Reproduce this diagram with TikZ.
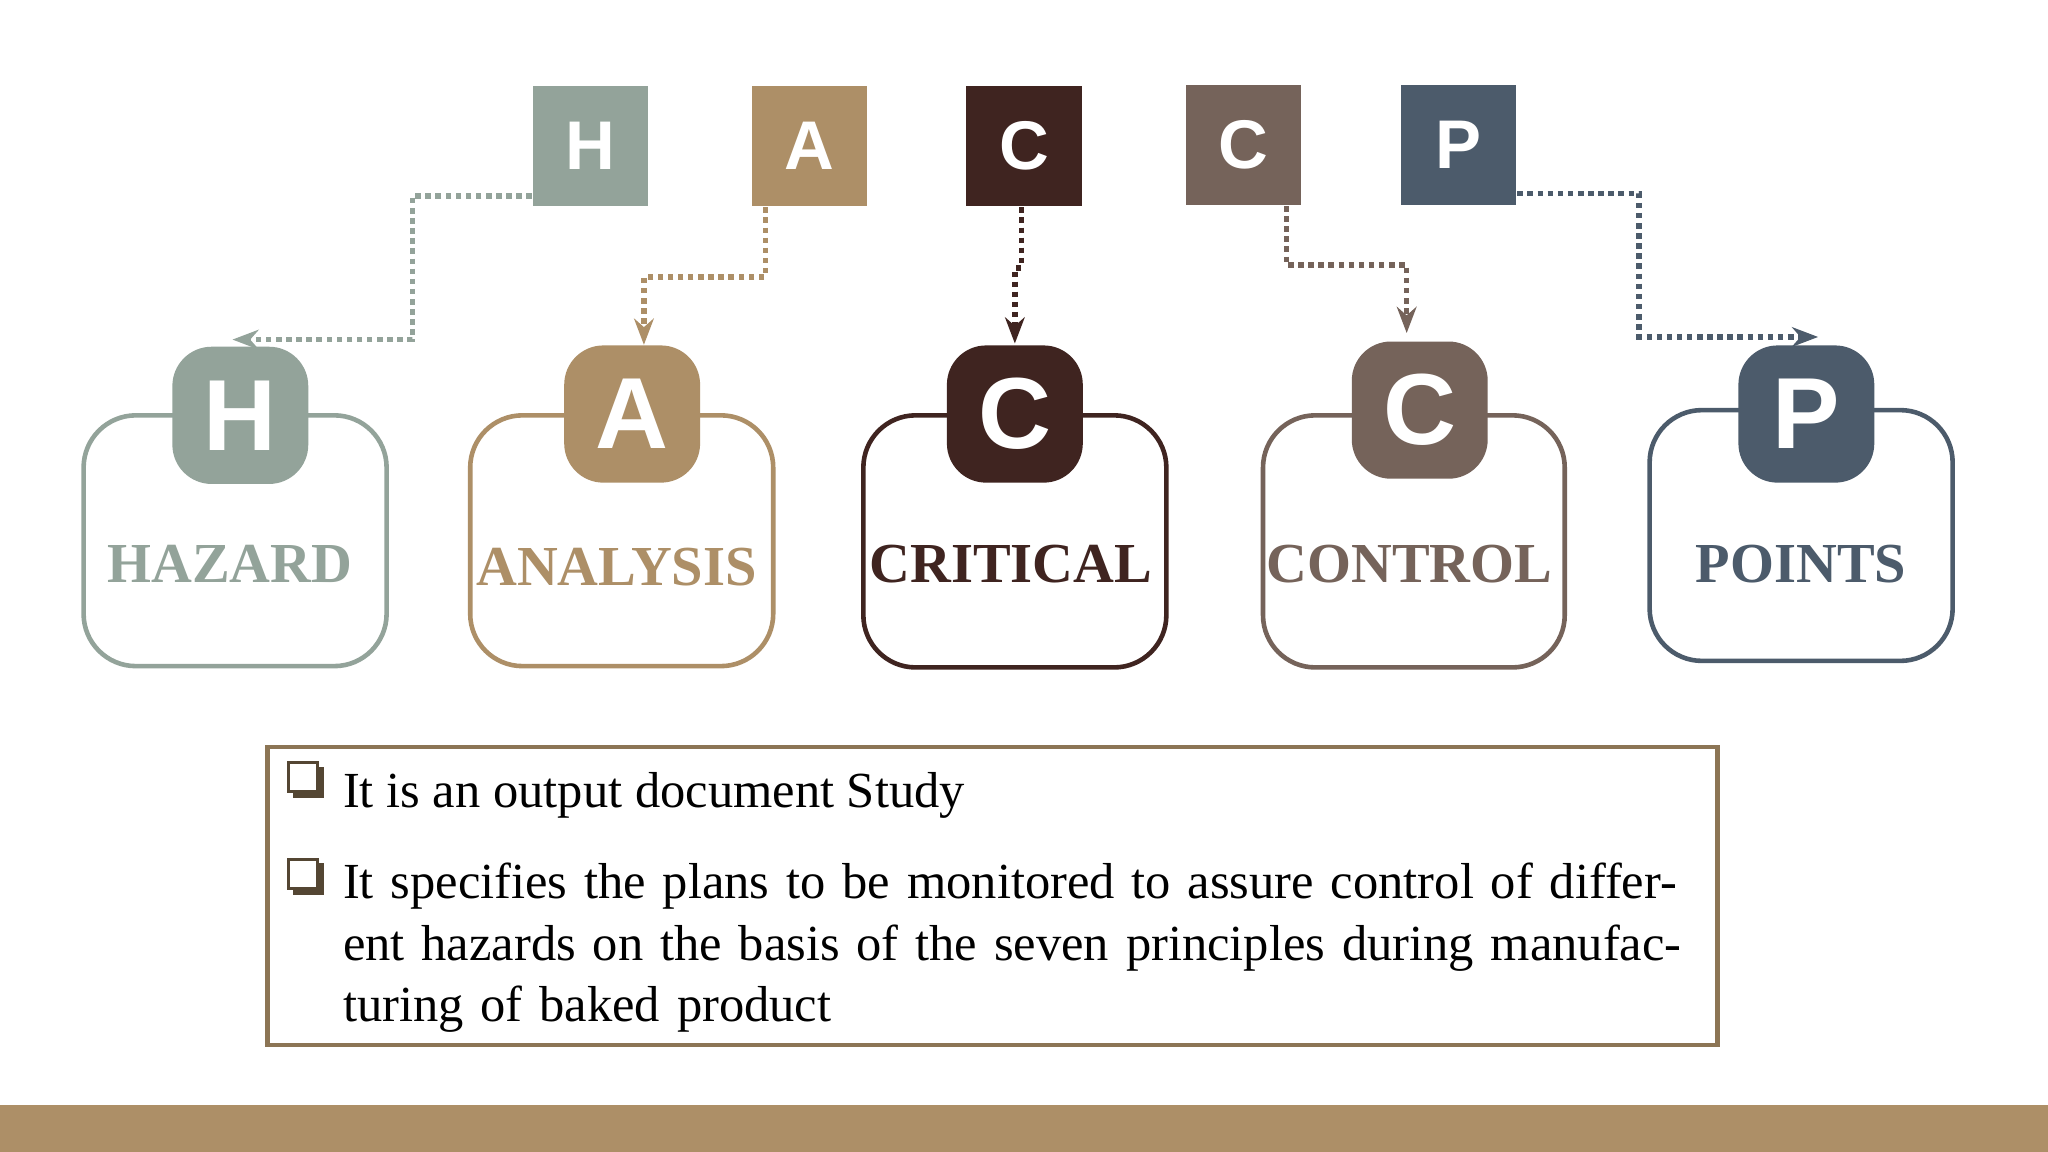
\documentclass[tikz,border=0pt]{standalone}
\usepackage{fontspec}
\setmainfont{Liberation Serif}
\newfontfamily\sansb{Liberation Sans}
\usetikzlibrary{arrows.meta,calc}
\definecolor{cH}{HTML}{93A39A}
\definecolor{cA}{HTML}{AD8F67}
\definecolor{cC}{HTML}{3F2420}
\definecolor{cCC}{HTML}{75635A}
\definecolor{cP}{HTML}{4C5B6B}
\definecolor{frame}{HTML}{8C7555}
\begin{document}
\begin{tikzpicture}[x=0.01cm,y=-0.01cm,
  topsq/.style={fill=#1,minimum width=2.5mm*3.52,minimum height=9.2mm,inner sep=0,text=white,font=\sansb\bfseries\fontsize{15}{15}\selectfont},
  tab/.style={fill=#1,rounded corners=3mm,minimum width=10.4mm,minimum height=10.5mm,inner sep=0,text=white,font=\sansb\bfseries\fontsize{22}{22}\selectfont},
  lbl/.style={text=#1,font=\bfseries\fontsize{12.3}{12.3}\selectfont},
  conn/.style={draw=#1,densely dotted,line width=1.2pt,-{Stealth[length=2mm]}}]
\useasboundingbox (0,0) rectangle (1568,882);
\fill[white] (0,0) rectangle (1568,882);
\fill[cA] (0,846) rectangle (1568,882);
% top squares
\node[topsq=cH] (tH) at (452,112) {H};
\node[topsq=cA] (tA) at (620,112) {A};
\node[topsq=cC] (tC) at (784,112) {C};
\node[topsq=cCC] (tC2) at (952,111) {C};
\node[topsq=cP] (tP) at (1117,111) {P};
% lower boxes
\draw[cH,line width=1pt,rounded corners=4mm] (64,318) rectangle (296,510);
\draw[cA,line width=1pt,rounded corners=4mm] (360,318) rectangle (592,510);
\draw[cC,line width=1pt,rounded corners=4mm] (661,318) rectangle (893,511);
\draw[cCC,line width=1pt,rounded corners=4mm] (967,318) rectangle (1198,511);
\draw[cP,line width=1pt,rounded corners=4mm] (1263,314) rectangle (1495,506);
\node[tab=cH] (bH) at (184,318) {H};
\node[tab=cA] (bA) at (484,317) {A};
\node[tab=cC] (bC) at (777,317) {C};
\node[tab=cCC] (bC2) at (1087,314) {C};
\node[tab=cP] (bP) at (1383,317) {P};
\node[lbl=cH] (lH) at (176,432) {HAZARD};
\node[lbl=cA] (lA) at (472,434) {ANALYSIS};
\node[lbl=cC] (lC) at (774,432) {CRITICAL};
\node[lbl=cCC] (lC2) at (1079,432) {CONTROL};
\node[lbl=cP] (lP) at (1379,432) {POINTS};
% connectors
\coordinate (eH) at (178,260);
\coordinate (eP) at (1392,258);
\draw[conn=cH] ($(tH.west)+(0,38)$) -- (316,150) -- (316,260) -- (eH);
\draw[conn=cA] ($(tA.south)+(-34,0)$) -- (586,212) -- (493,212) -- (493,264);
\draw[conn=cC] ($(tC.south)+(-2,0)$) -- (782,205) -- (777,205) -- (777,263);
\draw[conn=cCC] ($(tC2.south)+(33,0)$) -- (985,203) -- (1077,203) -- (1077,255);
\draw[conn=cP] ($(tP.east)+(0,37)$) -- (1255,148) -- (1255,258) -- (eP);
% text box
\draw[frame,line width=1pt] (205,572) rectangle (1315,800);
\foreach \yy in {596,670}{
  \fill[frame!60!black] (224,\yy-9) rectangle (248,\yy+15);
  \fill[white] (221,\yy-12) rectangle (243,\yy+10);
  \draw[frame!60!black,line width=0.6pt] (221,\yy-12) rectangle (243,\yy+10);
}
\node[anchor=base west,inner sep=0,font=\fontsize{11}{13.4}\selectfont] (t1) at (262,618) {It is an output document Study};
\node[anchor=north west,inner sep=0,text width=10.5cm,align=left,font=\fontsize{11}{13.4}\selectfont] (t2) at (262,660) {It specifies the plans to be monitored to assure control of different hazards on the basis of the seven principles during manufacturing of baked product};
\end{tikzpicture}
\end{document}
